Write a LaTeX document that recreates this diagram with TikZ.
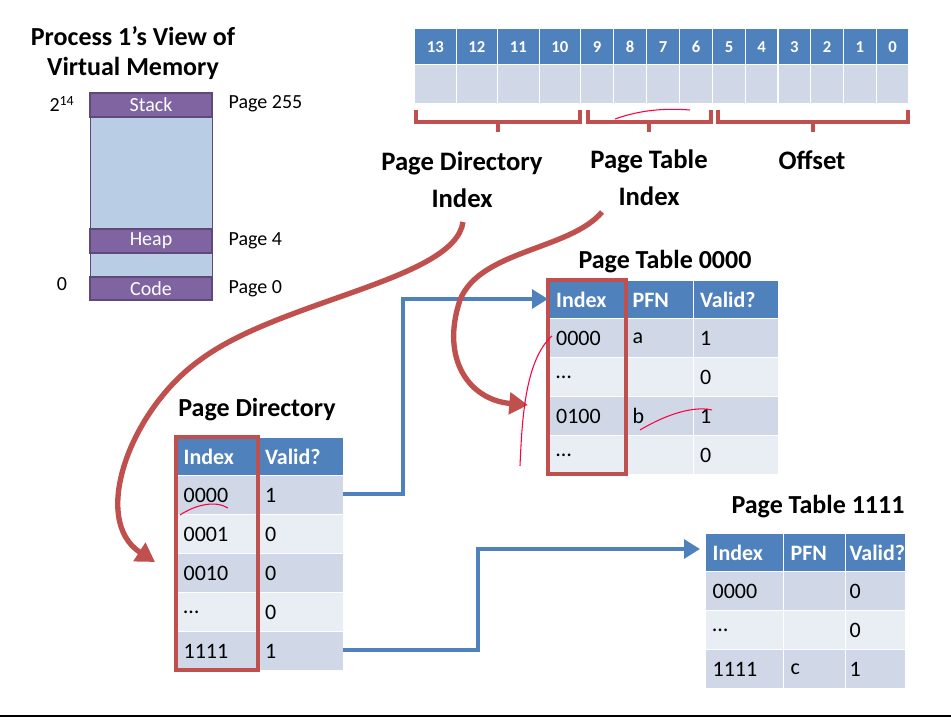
\documentclass[tikz,border=0pt]{standalone}
\usepackage{fontspec}
\setmainfont{Carlito}
\usetikzlibrary{arrows.meta}
\definecolor{hdr}{HTML}{4F81BD}
\definecolor{rowA}{HTML}{D0D8E8}
\definecolor{rowB}{HTML}{E9EDF4}
\definecolor{mem}{HTML}{B9CDE5}
\definecolor{seg}{HTML}{8064A2}
\definecolor{segb}{HTML}{5F497A}
\definecolor{redb}{HTML}{C0504D}
\definecolor{ink}{HTML}{FF0040}
\begin{document}
\begin{tikzpicture}[x=0.75pt,y=-0.75pt,
  hc/.style={draw=white,line width=1pt,fill=hdr,text=white,font=\bfseries\fontsize{16.5}{16.5}\selectfont},
  ca/.style={draw=white,line width=1pt,fill=rowA,font=\fontsize{16.5}{16.5}\selectfont},
  cb/.style={draw=white,line width=1pt,fill=rowB,font=\fontsize{16.5}{16.5}\selectfont},
  ttl/.style={font=\bfseries\fontsize{19.5}{23}\selectfont},
  big/.style={font=\bfseries\fontsize{20}{28}\selectfont,align=center},
  lbl/.style={font=\fontsize{15}{15}\selectfont},
  brace/.style={draw=redb,line width=3pt},
  redarr/.style={draw=redb,line width=4pt,-{Triangle[length=14pt,width=16pt]}},
  bluearr/.style={draw=hdr,line width=3pt,-{Triangle[length=12pt,width=14pt]}},
  hand/.style={draw=ink,line width=0.8pt},
  redbox/.style={draw=redb,line width=3pt}]
\useasboundingbox (0,0) rectangle (951,720);
\fill[white] (0,0) rectangle (951,720);
\draw[line width=1.5pt] (0,716) -- (951,716);
% process view
\node[ttl,align=center] (pt) at (133,53) {Process 1’s View of\\Virtual Memory};
\draw[fill=mem,draw=segb] (90,93) rectangle (212,300);
\fill[seg,draw=segb,line width=1.5pt] (90,93) rectangle (212,117); \node[text=white,lbl] (st) at (151,105) {Stack};
\fill[seg,draw=segb,line width=1.5pt] (90,229) rectangle (212,253); \node[text=white,lbl] (hp) at (151,241) {Heap};
\fill[seg,draw=segb,line width=1.5pt] (90,277) rectangle (212,300); \node[text=white,lbl] (cd) at (151,289) {Code};
\node[lbl] (a1) at (62,104) {2\textsuperscript{14}};
\node[lbl] (a2) at (62,284) {0};
\node[lbl,anchor=west] (p1) at (224,104) {Page 255};
\node[lbl,anchor=west] (p2) at (224,241) {Page 4};
\node[lbl,anchor=west] (p3) at (224,289) {Page 0};
% bits
\foreach \i/\xa/\w in {0/414/41.5,1/455.5/41.5,2/497/41.5,3/538.5/41.5,4/580/33,5/613/33,6/646/33,7/679/33,8/712/32.7,9/744.7/32.7,10/777.4/32.7,11/810.1/32.7,12/842.8/32.7,13/875.5/32.7}{
  \pgfmathtruncatemacro\lab{13-\i}
  \node[hc,font=\bfseries\fontsize{12.5}{12.5}\selectfont,minimum width=\w*0.75pt,minimum height=36*0.75pt,inner sep=0,anchor=north west] (h\i) at (\xa,28) {\lab};
  \node[ca,minimum width=\w*0.75pt,minimum height=39*0.75pt,inner sep=0,anchor=north west] (r\i) at (\xa,64) {};
}
\draw[brace] (416,110) -- (416,122) -- (580,122) -- (580,110) (498,122) -- (498,132);
\draw[brace] (588,110) -- (588,122) -- (711,122) -- (711,110) (649,122) -- (649,132);
\draw[brace] (718,110) -- (718,122) -- (908,122) -- (908,110) (813,122) -- (813,132);
\node[big] (l1) at (462,180) {Page Directory\\Index};
\node[big] (l2) at (649,178) {Page Table\\Index};
\node[big] (l3) at (812,160) {Offset};
\draw[hand] (615,119) .. controls (640,110) and (665,108) .. (690,110);
% page table 0000
\node[ttl] (t1) at (665,262) {Page Table 0000};
\foreach \y/\a/\b/\c/\s in {280/Index/PFN/Valid?/hc, 318/0000/a/1/ca, 357/…//0/cb, 396/0100/b/1/ca, 435/…//0/cb}{
  \node[\s,minimum width=77*0.75pt,minimum height=39*0.75pt,anchor=north west,text width=62*0.75pt] at (548,\y) {\a};
  \node[\s,minimum width=68*0.75pt,minimum height=39*0.75pt,anchor=north west,text width=54*0.75pt] at (625,\y) {\b};
  \node[\s,minimum width=85*0.75pt,minimum height=39*0.75pt,anchor=north west,text width=72*0.75pt] at (693,\y) {\c};
}
\coordinate (t1in) at (548,299);
\draw[redbox] (548,280) rectangle (626,474);
% page directory
\node[ttl] (t2) at (257,410) {Page Directory};
\foreach \y/\a/\c/\s in {437/Index/Valid?/hc, 475/0000/1/ca, 514/0001/0/cb, 553/0010/0/ca, 592/…/0/cb, 631/1111/1/ca}{
  \node[\s,minimum width=82*0.75pt,minimum height=39*0.75pt,anchor=north west,text width=68*0.75pt] at (176,\y) {\a};
  \node[\s,minimum width=85*0.75pt,minimum height=39*0.75pt,anchor=north west,text width=72*0.75pt] at (258,\y) {\c};
}
\coordinate (pd0) at (343,494);
\coordinate (pd15) at (343,650);
\draw[redbox] (176,437) rectangle (258,670);
% page table 1111
\node[ttl] (t3) at (818,507) {Page Table 1111};
\foreach \y/\a/\b/\c/\s in {533/Index/PFN/Valid?/hc, 571/0000//0/ca, 610/…//0/cb, 649/1111/c/1/ca}{
  \node[\s,minimum width=78*0.75pt,minimum height=39*0.75pt,anchor=north west,text width=64*0.75pt] at (705,\y) {\a};
  \node[\s,minimum width=62*0.75pt,minimum height=39*0.75pt,anchor=north west,text width=48*0.75pt] at (783,\y) {\b};
  \node[\s,inner xsep=3pt,minimum width=60*0.75pt,minimum height=39*0.75pt,anchor=north west,text width=52*0.75pt] at (845,\y) {\c};
}
\coordinate (t3in) at (700,549);
% blue arrows
\draw[bluearr] (pd0) -- (403,494) -- (403,299) -- (t1in);
\draw[bluearr] (pd15) -- (478,650) -- (478,549) -- (t3in);
% red curves
\coordinate (c1s) at (463,222);
\coordinate (c1e) at (155,562);
\draw[redarr] (c1s) .. controls (455,280) and (280,300) .. (200,360) .. controls (130,410) and (90,520) .. (c1e);
\coordinate (c2s) at (602,212);
\coordinate (c2e) at (528,405);
\draw[redarr] (c2s) .. controls (570,250) and (480,250) .. (460,300) .. controls (440,360) and (470,400) .. (c2e);
% hand marks
\draw[hand] (180,515) .. controls (195,505) and (215,500) .. (228,508);
\draw[hand] (520,466) .. controls (522,420) and (525,360) .. (552,336);
\draw[hand] (640,430) .. controls (660,418) and (690,405) .. (712,410);
\end{tikzpicture}
\end{document}
